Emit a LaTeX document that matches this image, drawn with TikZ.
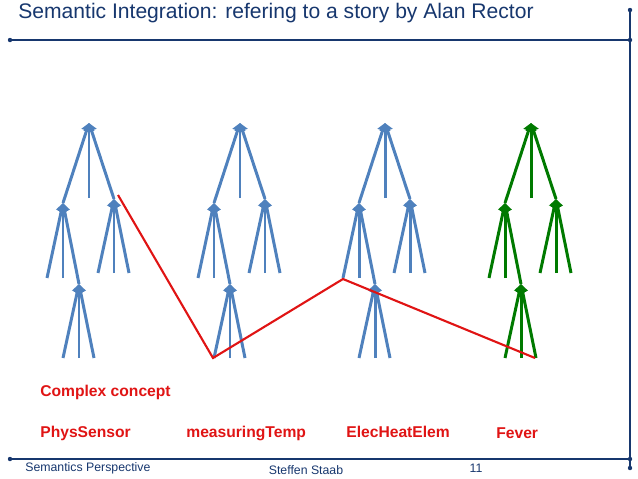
\documentclass[tikz,border=0pt]{standalone}
\usepackage{fontspec}
\setmainfont{Liberation Sans}
\usetikzlibrary{arrows.meta}
\definecolor{treeblue}{RGB}{79,129,189}
\definecolor{treegreen}{RGB}{0,122,0}
\definecolor{navy}{RGB}{23,55,110}
\definecolor{lblred}{RGB}{224,20,20}
\begin{document}
\begin{tikzpicture}[x=0.02cm,y=-0.02cm,
  edge/.style={line width=1.7pt,-{Triangle[width=6pt,length=4.5pt]}},
  frame/.style={navy,line width=0.7pt},
  lbl/.style={anchor=west,text=lblred,font=\fontsize{8.9}{10}\selectfont\bfseries,inner sep=0pt},
  foot/.style={text=navy,font=\fontsize{7}{8}\selectfont,inner sep=0pt}]
\useasboundingbox (0,0) rectangle (638,478);
% frame
\node[anchor=west,text=navy,font=\fontsize{12}{14}\selectfont,inner sep=0pt] (title) at (18,13) {Semantic Integration: refering to a story by Alan Rector};
\coordinate (hl) at (10,40); \coordinate (hr) at (630,40);
\coordinate (fl) at (10,459); \coordinate (fr) at (630,459);
\coordinate (vt) at (630,10); \coordinate (vb) at (630,468);
\draw[frame] (hl) -- (hr);
\draw[frame] (fl) -- (fr);
\draw[frame] (vt) -- (vb);
\foreach \p in {hl,hr,fl,fr,vt,vb} \fill[navy] (\p) circle (2.2);
% trees
\foreach \dx/\col [count=\i] in {0/treeblue,151/treeblue,296/treeblue,442/treegreen}{
  \begin{scope}[xshift=\dx*0.02cm,\col,draw=\col]
    \coordinate (r\i) at (89,123);
    \coordinate (a\i) at (63,203);
    \coordinate (b\i) at (114,199);
    \coordinate (c\i) at (79,284);
    \coordinate (m\i) at (89,198);
    \foreach \e in {a\i,m\i,b\i} \draw[edge] (\e) -- (r\i);
    \coordinate (a1\i) at (47,278); \coordinate (a2\i) at (63,278);
    \draw[edge] (a1\i) -- (a\i); \draw[edge] (a2\i) -- (a\i); \draw[edge] (c\i) -- (a\i);
    \coordinate (b1\i) at (98,273); \coordinate (b2\i) at (114,273); \coordinate (b3\i) at (129,273);
    \foreach \e in {b1\i,b2\i,b3\i} \draw[edge] (\e) -- (b\i);
    \coordinate (c1\i) at (63,358); \coordinate (c2\i) at (79,358); \coordinate (c3\i) at (94,358);
    \foreach \e in {c1\i,c2\i,c3\i} \draw[edge] (\e) -- (c\i);
  \end{scope}
}
% red path
\coordinate (p1) at (118,195); \coordinate (p2) at (213,358);
\coordinate (p3) at (343,279); \coordinate (p4) at (535,358);
\draw[lblred,line width=1.2pt] (p1) -- (p2) -- (p3) -- (p4);
% labels
\node[lbl] (cc) at (40,392) {Complex concept};
\node[lbl] (ps) at (40,433) {PhysSensor};
\node[lbl] (mt) at (186,433) {measuringTemp};
\node[lbl] (eh) at (346,432) {ElecHeatElem};
\node[lbl] (fv) at (496,433) {Fever};
% footer
\node[foot,anchor=west] (f1) at (25,468) {Semantics Perspective};
\node[foot] (f2) at (306,470) {Steffen Staab};
\node[foot] (f3) at (476,468) {11};
\end{tikzpicture}
\end{document}
